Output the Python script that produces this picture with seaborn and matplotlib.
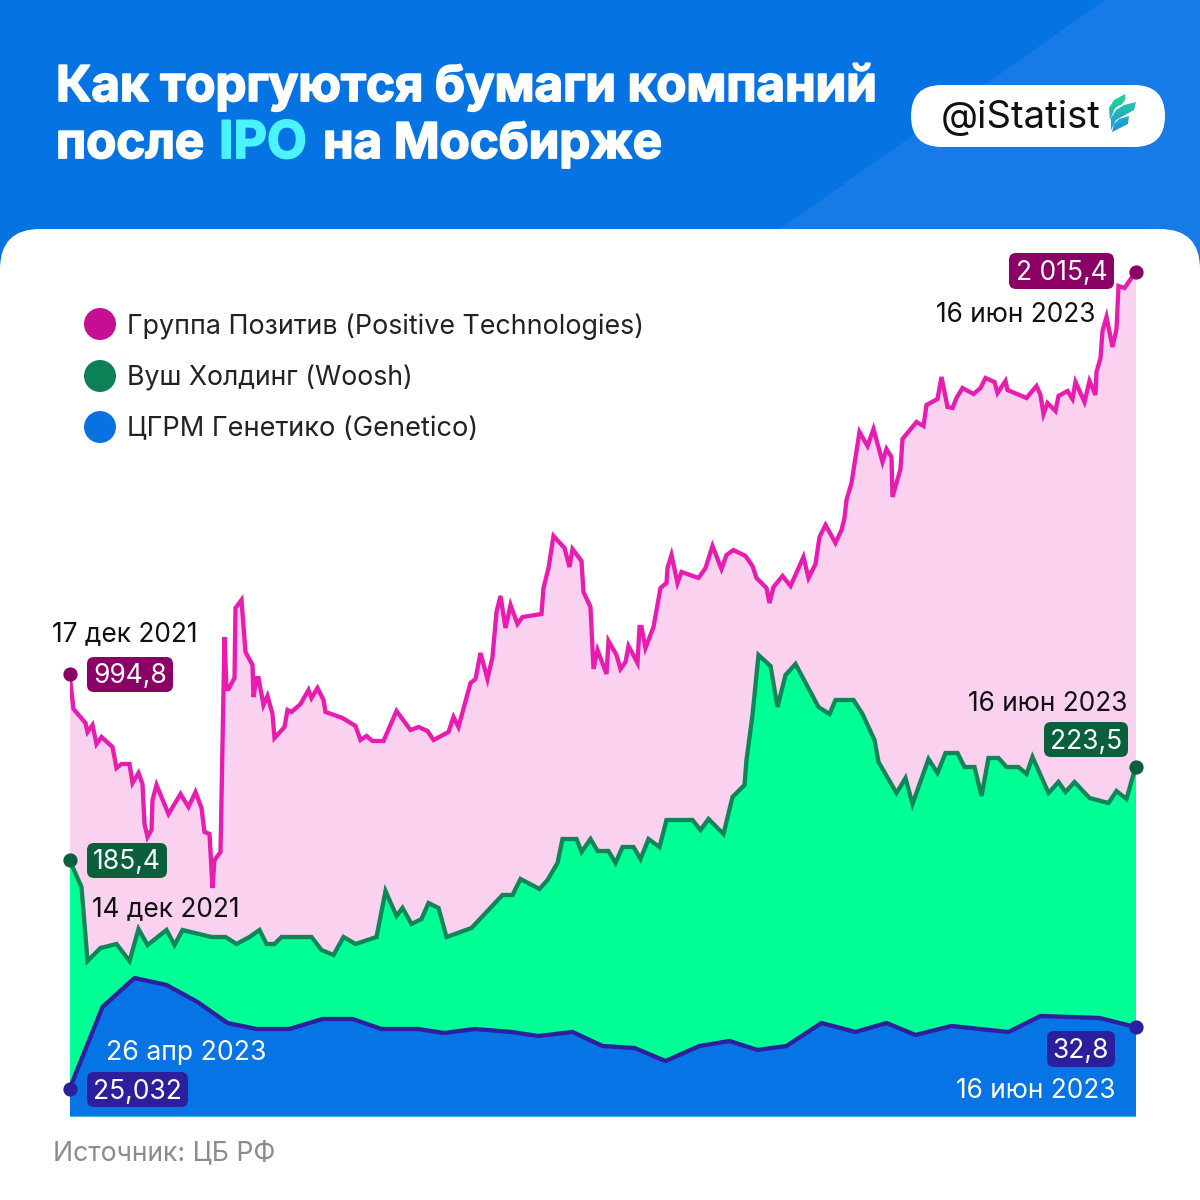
import numpy as np
import pandas as pd
import matplotlib
matplotlib.use('Agg')
import matplotlib.pyplot as plt
import matplotlib.patheffects as pe
from matplotlib.colors import LinearSegmentedColormap
from matplotlib.patches import FancyBboxPatch, Polygon, Circle, Rectangle
import seaborn as sns

# all three series have their own real scale on the picture,
# so values are kept in chart height units read from the image
pink_x = [0, 4, 16, 18, 23, 27, 32, 43, 47, 52, 60, 63, 69, 73, 75, 78, 82, 83, 87, 99, 111, 119, 126, 132, 135, 140,
          143, 145, 151, 155, 157, 159, 165, 166, 172, 176, 183, 184, 187, 189, 194, 198, 203, 205, 215, 218, 222,
          231, 239, 242, 248, 254, 256, 273, 286, 291, 297, 303, 314, 327, 341, 349, 358, 364, 379, 384, 389, 401,
          406, 411, 418, 423, 427, 431, 436, 441, 448, 453, 472, 474, 479, 484, 495, 500, 503, 512, 514, 521, 524,
          528, 537, 539, 547, 551, 556, 559, 568, 570, 572, 576, 584, 591, 597, 598, 602, 608, 612, 629, 636, 643,
          652, 657, 664, 676, 683, 687, 697, 700, 704, 713, 721, 734, 739, 746, 750, 756, 766, 772, 775, 777, 782,
          790, 798, 804, 813, 817, 822, 823, 831, 833, 847, 854, 857, 868, 872, 878, 883, 887, 893, 904, 911, 916,
          925, 928, 936, 938, 957, 967, 971, 974, 978, 986, 989, 998, 1003, 1006, 1015, 1020, 1026, 1027, 1031, 1033,
          1037, 1043, 1047, 1049, 1055, 1066]
pink_y = [442, 407, 393, 384, 391, 372, 379, 369, 348, 352, 352, 333, 343, 332, 292, 279, 286, 316, 331, 302, 322, 309,
          324, 308, 284, 282, 228, 256, 264, 479, 427, 427, 438, 508, 516, 464, 451, 419, 438, 438, 411, 420, 402, 378,
          389, 406, 404, 412, 426, 418, 428, 416, 404, 398, 390, 376, 380, 375, 375, 405, 386, 389, 385, 376, 384, 399,
          389, 433, 437, 463, 437, 459, 504, 520, 488, 511, 492, 499, 502, 528, 548, 580, 568, 549, 567, 555, 524, 509,
          447, 466, 442, 475, 461, 447, 454, 470, 453, 489, 489, 468, 489, 528, 533, 548, 561, 533, 544, 538, 548, 570,
          547, 561, 566, 560, 550, 538, 528, 513, 529, 540, 530, 559, 538, 552, 579, 591, 573, 586, 598, 616, 633, 684,
          670, 687, 654, 667, 659, 619, 647, 677, 694, 690, 711, 717, 739, 709, 708, 718, 728, 722, 728, 738, 734, 723,
          735, 726, 718, 730, 721, 702, 713, 705, 720, 725, 717, 734, 714, 735, 721, 744, 758, 785, 799, 769, 787, 830,
          828, 844]

green_x = [0, 12, 18, 31, 47, 60, 69, 78, 97, 105, 113, 142, 156, 167, 180, 190, 197, 205, 212, 242, 252, 264, 274, 286,
           307, 316, 327, 333, 342, 352, 359, 369, 377, 402, 433, 443, 451, 470, 478, 488, 493, 507, 512, 521, 528, 539,
           546, 553, 564, 571, 579, 590, 597, 623, 631, 639, 654, 663, 675, 677, 683, 689, 701, 708, 716, 726, 749, 760,
           766, 784, 793, 805, 809, 827, 836, 843, 859, 868, 876, 888, 895, 905, 912, 919, 929, 937, 949, 957, 963, 979,
           989, 996, 1005, 1020, 1039, 1047, 1057, 1066]
green_y = [256, 229, 155, 168, 172, 155, 187, 171, 186, 171, 186, 179, 179, 172, 179, 186, 172, 172, 179, 179, 166, 161,
           179, 172, 179, 225, 200, 208, 192, 197, 213, 208, 179, 188, 221, 221, 237, 227, 236, 253, 277, 277, 264, 277,
           265, 265, 253, 269, 269, 257, 277, 269, 296, 296, 286, 297, 282, 319, 331, 356, 401, 461, 450, 409, 441, 452,
           409, 402, 416, 416, 402, 376, 354, 323, 338, 312, 357, 343, 363, 363, 349, 349, 320, 358, 358, 349, 349, 342,
           359, 323, 334, 324, 334, 318, 313, 325, 317, 349]

blue_x = [0, 33, 65, 97, 128, 158, 187, 220, 253, 283, 312, 348, 375, 405, 442, 469, 503, 533, 565, 596, 630, 660, 688,
          717, 752, 786, 817, 846, 882, 939, 971, 1030, 1066]
blue_y = [27, 109, 138, 131, 114, 93, 87, 87, 97, 97, 87, 87, 83, 87, 84, 80, 84, 70, 68, 55, 70, 75, 66, 70, 93, 84,
          93, 81, 90, 84, 100, 98, 89]

legend_labels = ['Группа Позитив (Positive Technologies)', 'Вуш Холдинг (Woosh)', 'ЦГРМ Генетико (Genetico)']
start_labels = ['994,8', '185,4', '25,032']
end_labels = ['2 015,4', '223,5', '32,8']

HEADER = '#0673E3'
HEADER_LIGHT = '#167BE6'
PINK_LINE, PINK_FILL, PINK_DARK = '#E81CAE', '#FAD1EF', '#8A0064'
GREEN_LINE, GREEN_FILL, GREEN_DARK = '#10855A', '#00FF94', '#0A5F3C'
BLUE_LINE, BLUE_FILL, BLUE_DARK = '#2E1F9E', '#0674E4', '#2B1F9E'

sns.set_theme(style='white')
plt.rcParams['font.family'] = ['Inter', 'DejaVu Sans']


def badge(ax, x0, y0, x1, y1, color, text):
    ax.add_patch(FancyBboxPatch((x0 + 6, y0 + 6), x1 - x0 - 12, y1 - y0 - 12,
                                boxstyle='round,pad=6,rounding_size=7', fc=color, ec='none'))
    ax.text((x0 + x1) / 2, (y0 + y1) / 2 + 2, text, color='white', fontsize=19, ha='center', va='center')


def draw_series(ax, x, y, fill, line, dark, order):
    df = pd.DataFrame({'x': x, 'y': y})
    ax.fill_between(df['x'], 0, df['y'], color=fill, lw=0, zorder=order)
    sns.lineplot(data=df, x='x', y='y', color=line, lw=3.1, estimator=None, errorbar=None, sort=False,
                 ax=ax, zorder=order + 0.1, solid_joinstyle='miter')
    ends = df.iloc[[0, -1]]
    sns.scatterplot(data=ends, x='x', y='y', color=dark, s=105, linewidth=0, ax=ax, zorder=10, clip_on=False)


def leaf(ax, pts):
    # small logo piece, gradient clipped to the polygon
    cmap = LinearSegmentedColormap.from_list('leaf', ['#24DA92', '#1E8FE2'])
    shape = Polygon(pts, fc='none', ec='none')
    ax.add_patch(shape)
    im = ax.imshow(np.linspace(0, 1, 64).reshape(-1, 1), cmap=cmap, extent=(1108, 1137, 133, 93), aspect='auto', zorder=3)
    im.set_clip_path(shape)


fig = plt.figure(figsize=(12, 12), dpi=100)

# background in pixel coordinates
bg = fig.add_axes([0, 0, 1, 1], zorder=0)
bg.set_xlim(0, 1200)
bg.set_ylim(1200, 0)
bg.axis('off')
bg.add_patch(Rectangle((0, 0), 1200, 300, fc=HEADER, ec='none'))
bg.add_patch(Polygon([(1105, 0), (1200, 0), (1200, 300), (780, 229)], fc=HEADER_LIGHT, ec='none'))
bg.add_patch(FancyBboxPatch((40, 269), 1120, 1000, boxstyle='round,pad=40,rounding_size=40', fc='white', ec='none'))

# chart
ax = fig.add_axes([69.5 / 1200, 84 / 1200, 1066.5 / 1200, 887 / 1200], zorder=1)
ax.patch.set_alpha(0)
draw_series(ax, pink_x, pink_y, PINK_FILL, PINK_LINE, PINK_DARK, 1)
draw_series(ax, green_x, green_y, GREEN_FILL, GREEN_LINE, GREEN_DARK, 2)
draw_series(ax, blue_x, blue_y, BLUE_FILL, BLUE_LINE, BLUE_DARK, 3)
ax.set_xlim(0, 1066.5)
ax.set_ylim(0, 887)
ax.axis('off')

# texts and badges above the chart
top = fig.add_axes([0, 0, 1, 1], zorder=2)
top.patch.set_alpha(0)

heavy = [pe.withStroke(linewidth=1.3, foreground='white')]
heavy_ipo = [pe.withStroke(linewidth=1.3, foreground='#4BF3FF')]
top.text(56, 101, 'Как торгуются бумаги компаний', color='white', fontsize=35.4, fontweight='bold', va='baseline', path_effects=heavy)
top.text(56, 158, 'после', color='white', fontsize=35.4, fontweight='bold', va='baseline', path_effects=heavy)
top.text(219, 158, 'IPO', color='#4BF3FF', fontsize=37.2, fontweight='bold', va='baseline', path_effects=heavy_ipo)
top.text(323, 158, 'на Мосбирже', color='white', fontsize=35.4, fontweight='bold', va='baseline', path_effects=heavy)

top.add_patch(FancyBboxPatch((942, 116), 192, 0, boxstyle='round,pad=31,rounding_size=31', fc='white', ec='none'))
top.text(941, 118, '@iStatist', color='#111111', fontsize=27.6, va='center')
leaf(top, [(1110, 120), (1109, 108), (1114, 100), (1125, 94), (1125, 100), (1122, 104), (1115, 108)])
leaf(top, [(1111, 130), (1111, 118), (1116, 110), (1124, 105), (1136, 102), (1134, 110), (1125, 115), (1116, 120)])
leaf(top, [(1112, 132), (1114, 124), (1119, 119), (1129, 116), (1128, 124), (1120, 128)])

legend_colors = ['#C40F92', '#0E8056', '#0A72E0']
legend_sizes = [19.3, 19.2, 19.6]
for yy, label, col, fs in zip([324, 376, 427], legend_labels, legend_colors, legend_sizes):
    top.add_patch(Circle((100, yy), 16, fc=col, ec='none'))
    top.text(127, yy + 2.5, label, color='#222222', fontsize=fs, va='center')

top.text(52, 641, '17 дек 2021', color='#111111', fontsize=18.9, va='baseline')
top.text(92, 916, '14 дек 2021', color='#111111', fontsize=18.9, va='baseline')
top.text(106, 1060, '26 апр 2023', color='white', fontsize=19.2, va='baseline')
top.text(1095, 322, '16 июн 2023', color='#111111', fontsize=18.9, va='baseline', ha='right')
top.text(1128, 711, '16 июн 2023', color='#111111', fontsize=18.9, va='baseline', ha='right')
top.text(1115, 1098, '16 июн 2023', color='white', fontsize=18.9, va='baseline', ha='right')

badge(top, 87, 657, 173, 692, PINK_DARK, start_labels[0])
badge(top, 87, 843, 167, 878, GREEN_DARK, start_labels[1])
badge(top, 87, 1072, 188, 1107, BLUE_DARK, start_labels[2])
badge(top, 1009, 253, 1114, 289, PINK_DARK, end_labels[0])
badge(top, 1044, 722, 1128, 757, GREEN_DARK, end_labels[1])
badge(top, 1047, 1031, 1115, 1067, BLUE_DARK, end_labels[2])

top.text(53, 1153, 'Источник: ЦБ РФ', color='#8C8C8C', fontsize=19.1, va='center')

top.set_xlim(0, 1200)
top.set_ylim(1200, 0)
top.axis('off')

fig.savefig('out.png', dpi=100)
plt.close()
